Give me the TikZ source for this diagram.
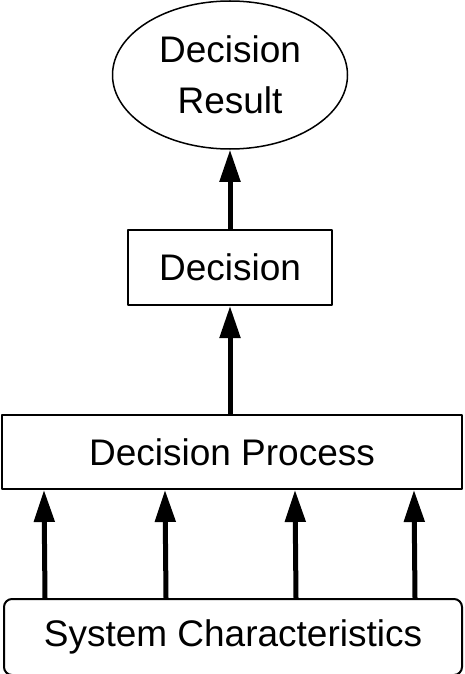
\documentclass[tikz,border=0pt]{standalone}
\usepackage{fontspec}
\setmainfont{Liberation Sans}
\usetikzlibrary{arrows.meta,shapes.geometric}
\begin{document}
\begin{tikzpicture}[x=1pt, y=-1pt, font=\fontsize{37}{53}\selectfont, line join=round, >={Triangle[length=32pt,width=20pt]},
		box/.style={draw, line width=2pt, inner sep=0pt},
		arr/.style={->, line width=5pt}]
			\useasboundingbox (0,0) rectangle (464,674);
			\node[ellipse, draw, line width=1.5pt, minimum width=235pt, minimum height=148pt, align=center, inner sep=0pt] (res) at (230,75) {Decision\\[-2pt]Result};
			\node[box, minimum width=204pt, minimum height=75pt] (dec) at (230,267.5) {Decision};
			\node[box, minimum width=460pt, minimum height=74pt] (proc) at (232,452) {Decision Process};
			\node[box, rounded corners=8pt, minimum width=458pt, minimum height=76pt] (sys) at (233,637) {System Characteristics};
			\draw[arr] (dec.north) -- (res.south);
			\draw[arr] (proc.north -| dec.south) -- (dec.south);
			\foreach \d in {-188,-67,63,182}
				\draw[arr] ([xshift=\d pt]sys.north) -- ([xshift=\d pt]proc.south);
	\end{tikzpicture}
\end{document}
